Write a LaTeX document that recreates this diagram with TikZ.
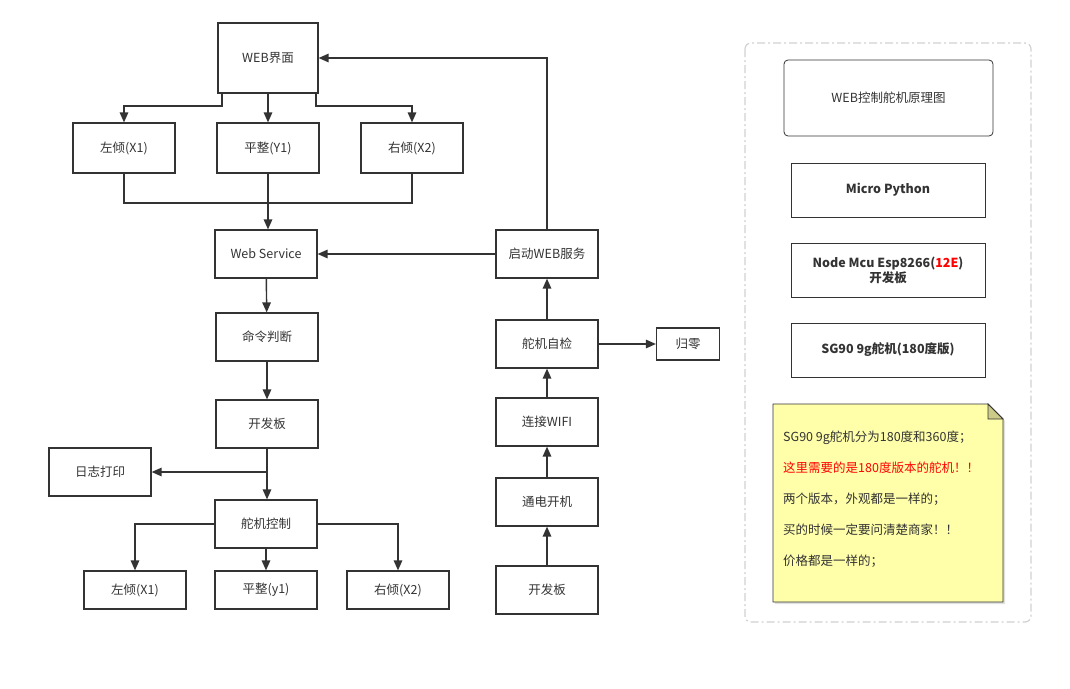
\documentclass[tikz,border=0pt]{standalone}
\usepackage{fontspec}
\setmainfont{Noto Sans CJK SC}
\usetikzlibrary{arrows.meta,shapes.misc}
\definecolor{ln}{HTML}{333333}
\tikzset{
  bx/.style={draw=ln,line width=1.2pt,minimum width=102pt,minimum height=48pt,font=\fontsize{12.5}{14}\selectfont,text=ln,inner sep=1pt},
  pbx/.style={draw=ln,line width=0.8pt,minimum width=194pt,minimum height=54pt,font=\bfseries\fontsize{12.5}{15}\selectfont,text=ln,align=center},
  ar/.style={draw=ln,line width=1.4pt,-{Triangle[length=10pt,width=8.5pt]}},
  pl/.style={draw=ln,line width=1.4pt}
}
\begin{document}
\begin{tikzpicture}[x=1pt,y=-1pt]
\useasboundingbox (0,0) rectangle (1070,688);
\node[bx,minimum height=70pt,minimum width=100pt] (web) at (268,58) {WEB界面};
\node[bx,minimum height=50pt] (l1) at (124,148) {左倾(X1)};
\node[bx,minimum height=50pt] (p1) at (268,148) {平整(Y1)};
\node[bx,minimum height=50pt] (r1) at (412,148) {右倾(X2)};
\node[bx] (ws) at (266,254) {Web Service};
\node[bx] (cmd) at (267,337) {命令判断};
\node[bx] (kfb) at (267,424) {开发板};
\node[bx] (log) at (100,472) {日志打印};
\node[bx] (ctl) at (266,524) {舵机控制};
\node[bx,minimum height=38pt] (l2) at (135,590) {左倾(X1)};
\node[bx,minimum height=38pt] (p2) at (266,590) {平整(y1)};
\node[bx,minimum height=38pt] (r2) at (398,590) {右倾(X2)};
\node[bx] (qd) at (547,254) {启动WEB服务};
\node[bx] (zj) at (547,344) {舵机自检};
\node[bx,minimum width=63pt,minimum height=32pt] (gl) at (688,344) {归零};
\node[bx] (wifi) at (547,422) {连接WIFI};
\node[bx] (td) at (547,502) {通电开机};
\node[bx] (kf2) at (547,590) {开发板};
% panel
\draw[draw=black!18,line width=1.2pt,dash pattern=on 8pt off 3pt on 2pt off 3pt,rounded corners=6pt] (745,43) rectangle (1031,622);
\node[draw=ln,line width=0.8pt,rounded corners=4pt,minimum width=209pt,minimum height=76pt,font=\fontsize{12.5}{14}\selectfont,text=ln] (title) at (888.5,98) {WEB控制舵机原理图};
\node[pbx] (mp) at (888,190) {Micro Python};
\node[pbx] (nm) at (888,270) {Node Mcu Esp8266(\textcolor{red}{12E})\\开发板};
\node[pbx] (sg) at (888,350) {SG90 9g舵机(180度版)};
\fill[black!12] (775,406) -- (990,406) -- (1005,421) -- (1005,604) -- (775,604) -- cycle;
\draw[draw=ln,line width=0.8pt,fill={rgb,255:red,255;green,255;blue,170}] (773,404) -- (988,404) -- (1003,419) -- (1003,602) -- (773,602) -- cycle;
\draw[draw=ln,line width=0.8pt,fill={rgb,255:red,204;green,204;blue,136}] (988,404) -- (988,419) -- (1003,419) -- cycle;
\node[anchor=north west,align=left,font=\fontsize{12.5}{31}\selectfont,text=ln,inner sep=0] (note) at (783,431) {SG90 9g舵机分为180度和360度；\\\textcolor{red}{这里需要的是180度版本的舵机！！}\\两个版本，外观都是一样的；\\买的时候一定要问清楚商家！！\\价格都是一样的；};
% connectors
\draw[ar] (web.south) -- (p1.north);
\draw[ar] ([xshift=-46pt]web.south) |- (124,106) -- (l1.north);
\draw[ar] ([xshift=48pt]web.south) |- (412,106) -- (r1.north);
\draw[pl] (l1.south) |- (268,203);
\draw[pl] (r1.south) |- (268,203);
\draw[ar] (p1.south) -- (p1.south |- ws.north);
\draw[ar] (ws) -- (cmd);
\draw[ar] (cmd) -- (kfb);
\draw[ar] (kfb) -- (kfb.south |- ctl.north);
\draw[ar] (267,472) -- (log.east);
\draw[ar] (ctl.west) -| (l2.north);
\draw[ar] (ctl.east) -| (r2.north);
\draw[ar] (ctl) -- (p2);
\draw[ar] (kf2) -- (td);
\draw[ar] (td) -- (wifi);
\draw[ar] (wifi) -- (zj);
\draw[ar] (zj) -- (qd);
\draw[ar] (zj) -- (gl);
\draw[ar] (qd) -- (ws);
\draw[ar] (qd.north) |- (web.east);
\end{tikzpicture}
\end{document}
